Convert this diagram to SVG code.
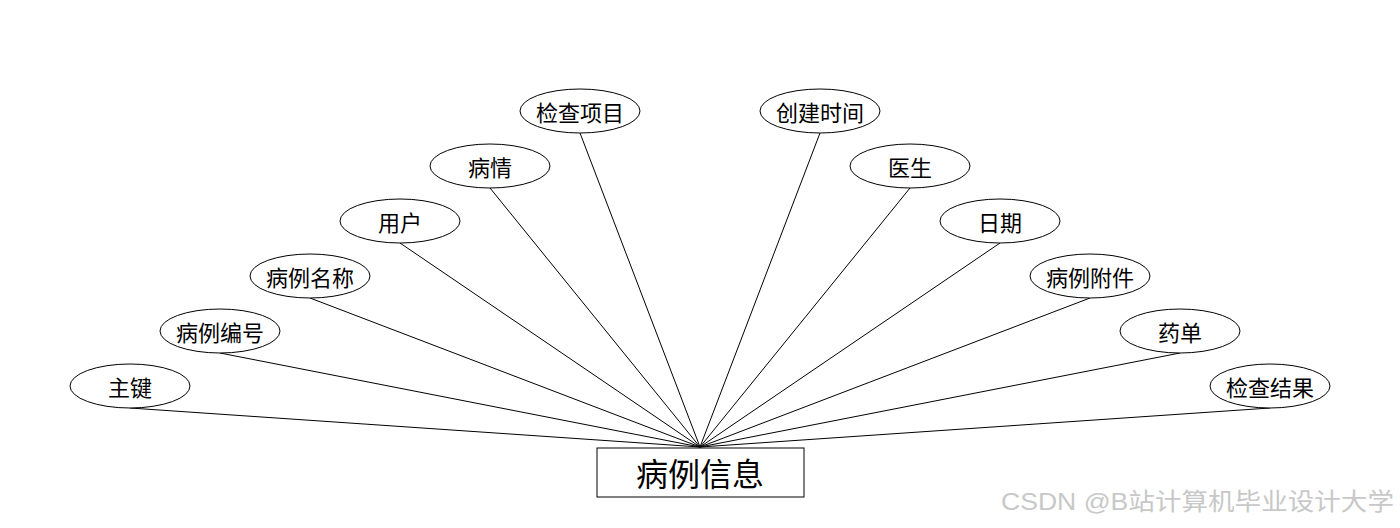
<svg xmlns="http://www.w3.org/2000/svg" width="1400" height="528" viewBox="0 0 1400 528">
<style>
.attr ellipse{fill:#fff;stroke:#000;stroke-width:1}
.attr text{font-family:"Noto Sans CJK SC","Liberation Sans",sans-serif;font-size:22px;text-anchor:middle;dominant-baseline:central;fill:#000}
.conn line{stroke:#000;stroke-width:1}
.ent rect{fill:#fff;stroke:#000;stroke-width:1}
.ent text{font-family:"Noto Sans CJK SC","Liberation Sans",sans-serif;font-size:32px;text-anchor:middle;dominant-baseline:central;fill:#000}
.wm{font-family:"Liberation Sans","Noto Sans CJK SC",sans-serif;font-size:24px;fill:#c8c8c8}
</style>
<rect width="1400" height="528" fill="#fff"/>
<g id="connectors" class="conn">
<line x1="130" y1="408" x2="700" y2="447"/>
<line x1="220" y1="353" x2="700" y2="447"/>
<line x1="310" y1="298" x2="700" y2="447"/>
<line x1="400" y1="243" x2="700" y2="447"/>
<line x1="490" y1="188" x2="700" y2="447"/>
<line x1="580" y1="133" x2="700" y2="447"/>
<line x1="820" y1="133" x2="700" y2="447"/>
<line x1="910" y1="188" x2="700" y2="447"/>
<line x1="1000" y1="243" x2="700" y2="447"/>
<line x1="1090" y1="298" x2="700" y2="447"/>
<line x1="1180" y1="353" x2="700" y2="447"/>
<line x1="1270" y1="408" x2="700" y2="447"/>
</g>
<g id="n-zhujian" class="attr"><ellipse cx="130" cy="386" rx="60" ry="22"/><text x="130" y="386">主键</text></g>
<g id="n-bianhao" class="attr"><ellipse cx="220" cy="331" rx="60" ry="22"/><text x="220" y="331">病例编号</text></g>
<g id="n-mingcheng" class="attr"><ellipse cx="310" cy="276" rx="60" ry="22"/><text x="310" y="276">病例名称</text></g>
<g id="n-yonghu" class="attr"><ellipse cx="400" cy="221" rx="60" ry="22"/><text x="400" y="221">用户</text></g>
<g id="n-bingqing" class="attr"><ellipse cx="490" cy="166" rx="60" ry="22"/><text x="490" y="166">病情</text></g>
<g id="n-jianchaxiangmu" class="attr"><ellipse cx="580" cy="111" rx="60" ry="22"/><text x="580" y="111">检查项目</text></g>
<g id="n-chuangjianshijian" class="attr"><ellipse cx="820" cy="111" rx="60" ry="22"/><text x="820" y="111">创建时间</text></g>
<g id="n-yisheng" class="attr"><ellipse cx="910" cy="166" rx="60" ry="22"/><text x="910" y="166">医生</text></g>
<g id="n-riqi" class="attr"><ellipse cx="1000" cy="221" rx="60" ry="22"/><text x="1000" y="221">日期</text></g>
<g id="n-fujian" class="attr"><ellipse cx="1090" cy="276" rx="60" ry="22"/><text x="1090" y="276">病例附件</text></g>
<g id="n-yaodan" class="attr"><ellipse cx="1180" cy="331" rx="60" ry="22"/><text x="1180" y="331">药单</text></g>
<g id="n-jianchajieguo" class="attr"><ellipse cx="1270" cy="386" rx="60" ry="22"/><text x="1270" y="386">检查结果</text></g>
<g id="n-bingliexinxi" class="ent"><rect x="597" y="448" width="207" height="49"/><text x="700" y="472">病例信息</text></g>
<text class="wm" x="1001" y="510" textLength="393" lengthAdjust="spacingAndGlyphs">CSDN @B站计算机毕业设计大学</text>
</svg>
